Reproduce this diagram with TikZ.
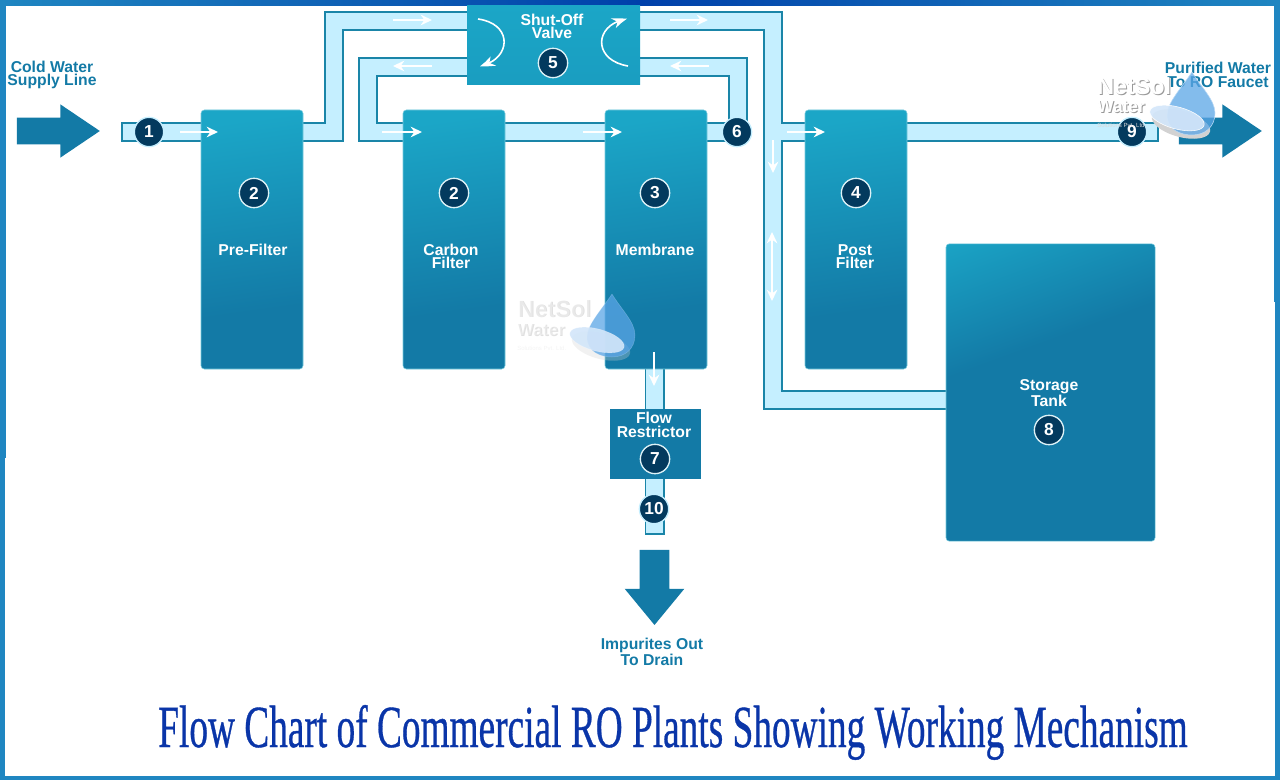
\documentclass[tikz,border=0pt]{standalone}
\usepackage{fontspec}
\setmainfont{Liberation Sans}
\newfontfamily\titlefont[FakeBold=0.7]{Liberation Serif}
\usetikzlibrary{arrows.meta,backgrounds,bending,positioning,shapes.arrows}
\definecolor{boxlight}{HTML}{1BA6C7}
\definecolor{boxdark}{HTML}{137AA6}
\definecolor{pipeedge}{HTML}{1A85A8}
\definecolor{pipefill}{HTML}{C5EFFF}
\definecolor{badgefill}{HTML}{033A5E}
\definecolor{framelight}{HTML}{1F86C1}
\definecolor{framedark}{HTML}{0040AA}
\definecolor{titleblue}{HTML}{0A35A8}
\definecolor{dropblue}{HTML}{5AA5E6}
\definecolor{lensblue}{HTML}{D3E6FA}
\pgfdeclareverticalshading{filtershade}{100bp}{color(0bp)=(boxdark); color(35bp)=(boxdark); color(75bp)=(boxlight); color(100bp)=(boxlight)}
\pgfdeclareverticalshading{tankshade}{100bp}{color(0bp)=(boxdark); color(59bp)=(boxdark); color(84bp)=(boxlight); color(100bp)=(boxlight)}
\tikzset{
    filter/.style = {
        shading = filtershade,
        shading angle = 8,
        draw = boxlight!60!white,
        line width = 0.4pt,
        rounded corners = 2.5pt,
        inner sep = 0pt,
        outer sep = 0pt,
        minimum width = 76.5pt,
        minimum height = 194.25pt,
        },
    tankbox/.style = {
        filter,
        shading = tankshade,
        shading angle = 20,
        minimum width = 156.75pt,
        minimum height = 223pt,
        },
    valvebox/.style = {
        top color = boxlight,
        bottom color = boxlight!80!boxdark,
        inner sep = 0pt,
        outer sep = 0pt,
        minimum width = 129.75pt,
        minimum height = 59.25pt,
        },
    restrictbox/.style = {
        fill = boxdark,
        inner sep = 0pt,
        outer sep = 0pt,
        minimum width = 68.25pt,
        minimum height = 52.5pt,
        },
    pipe edge/.style = {
        draw = pipeedge,
        line width = 15pt,
        },
    pipe fill/.style = {
        draw = pipefill,
        line width = 12.6pt,
        },
    badge/.style = {
        circle,
        fill = badgefill,
        draw = white!85!boxlight,
        line width = 1pt,
        text = white,
        inner sep = 0pt,
        minimum size = 22pt,
        font = \bfseries\fontsize{13}{13}\selectfont,
        },
    boxlabel/.style = {
        text = white,
        align = center,
        inner sep = 0pt,
        font = \bfseries\fontsize{11.8}{10.2}\selectfont,
        },
    sidelabel/.style = {
        boxlabel,
        text = boxdark,
        },
    flow/.style = {
        draw = white,
        line width = 1.2pt,
        -{Stealth[length=8.5pt,width=8pt]},
        },
    bigarrow/.style = {
        single arrow,
        fill = boxdark,
        inner xsep = 0pt,
        inner ysep = 9.75pt,
        outer sep = 0pt,
        minimum height = 62.25pt,
        single arrow head extend = 10pt,
        single arrow tip angle = 68,
        single arrow head indent = 0pt,
        },
    netsol/.pic = {
        \node[text=gray!80, anchor=base west, inner sep=0pt, font=\bfseries\fontsize{17.5}{17.5}\selectfont] (shadowa) at (1,21) {NetSol};
        \node[text=white, anchor=base west, inner sep=0pt, font=\bfseries\fontsize{17.5}{17.5}\selectfont] (namea) at (0,20) {NetSol};
        \node[text=gray!80, anchor=base west, inner sep=0pt, font=\bfseries\fontsize{13}{13}\selectfont] (shadowb) at (1,39) {Water};
        \node[text=white, anchor=base west, inner sep=0pt, font=\bfseries\fontsize{13}{13}\selectfont] (nameb) at (0,38) {Water};
        \node[text=white!70!gray, anchor=base west, inner sep=0pt, font=\fontsize{4.5}{4.5}\selectfont] (namec) at (0,53) {Solutions Pvt. Ltd.};
        \fill[gray!35] (84,49) ellipse[x radius=30, y radius=13, rotate=-15];
        \path[draw=white!60!dropblue, fill=dropblue, fill opacity=0.75] (95,-3) .. controls (85,12) and (70,28) .. (70,40) .. controls (70,55) and (84,60) .. (95,60) .. controls (108,60) and (118,52) .. (118,38) .. controls (118,25) and (104,12) .. (95,-3);
        \path[draw=white, fill=lensblue, fill opacity=0.9] (80,43) ellipse[x radius=28, y radius=11, rotate=-15];
        },
}
% the same pipe run is drawn twice, edge first and fill over it
\newcommand{\pipes}[2]{
    \draw[#1,shorten <=#2] (in) -- (pre |- in);
    \draw[#1] (pre |- in) -- (a1) -- (a2) -- (valve |- a2);
    \draw[#1] (valve |- b1) -- (b1) -- (b2) -- (carbon |- in);
    \draw[#1] (carbon |- in) -- (membrane |- in);
    \draw[#1] (membrane |- in) -- (d2) -- (d1) -- (valve |- d1);
    \draw[#1] (valve |- c1) -- (c1) -- (c2) -- (tank |- c2);
    \draw[#1] (c1 |- in) -- (post |- in);
    \draw[#1,shorten >=#2] (post |- in) -- (out);
    \draw[#1] (drain |- membrane) -- (drain |- restrict);
    \draw[#1,shorten >=#2] (drain |- restrict) -- (drain);
}
\begin{document}
\begin{tikzpicture}[x=0.75pt,y=-0.75pt]
    \useasboundingbox (0,0) rectangle (1280,780);
    % frame
    \fill[framelight] (0,0) rectangle (6,458);
    \fill[framelight] (0,458) rectangle (5,780);
    \fill[framelight] (1274,0) rectangle (1280,302);
    \fill[framelight] (1275,302) rectangle (1280,780);
    \fill[framelight] (0,776) rectangle (1280,780);
    \shade[left color=framelight, right color=framelight, middle color=framedark] (0,0) rectangle (1280,6);

    % vessels
    \node[filter] (pre) at (252,239.5) {};
    \node[filter, right=75pt of pre] (carbon) {};
    \node[filter, right=75pt of carbon] (membrane) {};
    \node[filter, right=73.5pt of membrane] (post) {};
    \node[tankbox] (tank) at (1050.5,392.5) {};
    \node[valvebox] (valve) at (553.5,45.5) {};
    \node[restrictbox] (restrict) at (655.5,444) {};

    \coordinate (in) at (121,132);
    \coordinate (a1) at (334,132);
    \coordinate (a2) at (334,21);
    \coordinate (b1) at (368,67);
    \coordinate (b2) at (368,132);
    \coordinate (c1) at (773,21);
    \coordinate (c2) at (773,400);
    \coordinate (d1) at (738,67);
    \coordinate (d2) at (738,132);
    \coordinate (out) at (1158.5,132);
    \coordinate (drain) at (654.5,534.5);

    \begin{scope}[on background layer]
        \pipes{pipe edge}{0pt}
        \pipes{pipe fill}{1.2pt}
    \end{scope}

    % big arrows
    \node[bigarrow] (coldin) at (48.5,131) {};
    \node[bigarrow] (pureout) at (1210.5,131) {};
    \node[bigarrow, rotate=-90, minimum height=56.25pt, inner ysep=10.9pt, single arrow head extend=11.25pt, single arrow tip angle=79] (drainout) at (654.5,578.5) {};

    % flow marks
    \coordinate (s1) at (180,132);   \coordinate (e1) at (218,132);
    \coordinate (s2) at (393,20);    \coordinate (e2) at (432,20);
    \coordinate (s3) at (432,66);    \coordinate (e3) at (393,66);
    \coordinate (s4) at (382,132);   \coordinate (e4) at (422,132);
    \coordinate (s5) at (583,132);   \coordinate (e5) at (622,132);
    \coordinate (s6) at (670,20);    \coordinate (e6) at (708,20);
    \coordinate (s7) at (709,66);    \coordinate (e7) at (670,66);
    \coordinate (s8) at (787,132);   \coordinate (e8) at (825,132);
    \coordinate (s9) at (773,140);   \coordinate (e9) at (773,173);
    \coordinate (s10) at (772,232);  \coordinate (e10) at (772,301);
    \coordinate (s11) at (654,352);  \coordinate (e11) at (654,386);
    \draw[flow] (s1) -- (e1);
    \draw[flow] (s2) -- (e2);
    \draw[flow] (s3) -- (e3);
    \draw[flow] (s4) -- (e4);
    \draw[flow] (s5) -- (e5);
    \draw[flow] (s6) -- (e6);
    \draw[flow] (s7) -- (e7);
    \draw[flow] (s8) -- (e8);
    \draw[flow] (s9) -- (e9);
    \draw[flow,{Stealth[length=8.5pt,width=8pt]}-{Stealth[length=8.5pt,width=8pt]}] (s10) -- (e10);
    \draw[flow] (s11) -- (e11);

    % valve arrows
    \coordinate (v1) at (478,19);  \coordinate (v2) at (480,66);
    \coordinate (v3) at (628,66);  \coordinate (v4) at (627,19);
    \draw[flow,-{Stealth[length=11pt,width=8pt,bend]}] (v1) .. controls (514,24) and (511,60) .. (v2);
    \draw[flow,-{Stealth[length=11pt,width=8pt,bend]}] (v3) .. controls (592,60) and (594,24) .. (v4);

    % badges
    \node[badge, draw=pipefill] (b1n) at (149,132) {1};
    \node[badge] (b2n) at (254,193) {2};
    \node[badge] (b2m) at (454,193) {2};
    \node[badge] (b3n) at (655,193) {3};
    \node[badge] (b4n) at (856,193) {4};
    \node[badge] (b5n) at (553,63) {5};
    \node[badge, draw=pipefill] (b6n) at (737,132) {6};
    \node[badge] (b7n) at (655,459) {7};
    \node[badge] (b8n) at (1049,430) {8};
    \node[badge, draw=pipefill] (b9n) at (1132,132) {9};
    \node[badge, draw=pipefill] (b10n) at (654,509) {10};

    % labels
    \node[boxlabel] (prelabel) at (253,250) {Pre-Filter};
    \node[boxlabel] (carbonlabel) at (451,256.5) {Carbon\\Filter};
    \node[boxlabel] (memlabel) at (655,250) {Membrane};
    \node[boxlabel] (postlabel) at (855,256.5) {Post\\Filter};
    \node[boxlabel] (tanklabel) at (1049,393.5) {Storage\\Tank};
    \node[boxlabel] (valvelabel) at (552,26.5) {Shut-Off\\Valve};
    \node[boxlabel] (restrictlabel) at (654,425) {Flow\\Restrictor};
    \node[sidelabel] (coldlabel) at (52,75) {Cold Water\\Supply Line};
    \node[sidelabel] (purelabel) at (1218,75) {Purified Water\\To RO Faucet};
    \node[sidelabel] (drainlabel) at (652,652) {Impurites Out\\To Drain};

    % watermarks
    \pic (marka) at (1097,75) {netsol};
    \pic[opacity=0.3] (markb) at (517,297) {netsol};

    \node[anchor=base west, inner sep=0pt, text=titleblue] (title) at (158,747) {\resizebox{772pt}{31.5pt}{\titlefont Flow Chart of Commercial RO Plants Showing Working Mechanism}};
\end{tikzpicture}
\end{document}
